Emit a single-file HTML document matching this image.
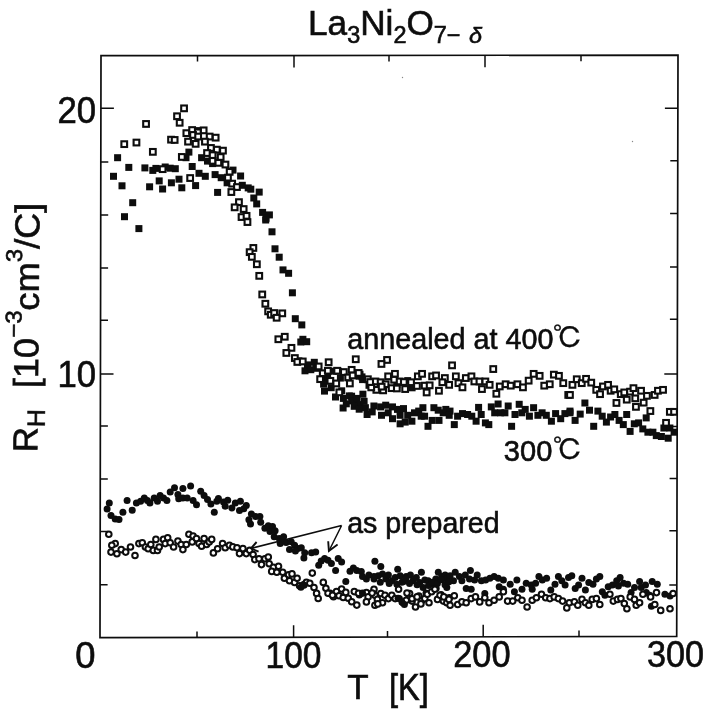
<!DOCTYPE html>
<html lang="en"><head><meta charset="utf-8"><title>La3Ni2O7-δ Hall coefficient</title>
<style>html,body{margin:0;padding:0;background:#fff}svg{display:block}text{font-family:"Liberation Sans","Noto Sans CJK JP",sans-serif;fill:#0d0d0d;stroke:#0d0d0d;stroke-width:0.6}.cj{font-family:"IPAGothic","Noto Sans CJK JP",sans-serif;stroke-width:0.3}</style></head><body>
<svg width="709" height="710" viewBox="0 0 709 710">
<rect width="709" height="710" fill="#fff" stroke="none"/>
<polygon points="101.0,55.7 678.0,55.1 676.7,636.4 100.0,637.6" fill="none" stroke="#0d0d0d" stroke-width="1.7" stroke-linejoin="miter"/>
<path d="M100.1 584.7 h7.5 M676.8 585.0 h-7.5 M100.2 531.5 h7.5 M676.9 530.8 h-7.5 M100.3 479.1 h7.5 M677.1 478.5 h-7.5 M100.4 425.9 h7.5 M677.2 426.5 h-7.5 M100.5 373.9 h13.0 M677.3 374.0 h-13.0 M100.5 320.3 h7.5 M677.4 319.3 h-7.5 M100.6 267.9 h7.5 M677.5 266.9 h-7.5 M100.7 214.9 h7.5 M677.6 213.6 h-7.5 M100.8 162.1 h7.5 M677.8 160.7 h-7.5 M100.9 108.3 h13.0 M677.9 108.3 h-13.0 M197.0 637.4 v-6.0 M197.5 55.6 v6.0 M293.6 637.2 v-12.0 M294.0 55.5 v12.0 M387.5 637.0 v-6.0 M389.0 55.4 v6.0 M483.2 636.8 v-12.0 M485.0 55.3 v12.0 M579.0 636.6 v-6.0 M581.0 55.2 v6.0" stroke="#0d0d0d" stroke-width="1.5" fill="none"/>
<g fill="#0d0d0d" stroke="none">
<rect x="114.1" y="154.2" width="7.0" height="7.0"/>
<rect x="125.3" y="163.9" width="7.0" height="7.0"/>
<rect x="110.0" y="172.8" width="7.0" height="7.0"/>
<rect x="118.5" y="182.3" width="7.0" height="7.0"/>
<rect x="129.2" y="199.2" width="7.0" height="7.0"/>
<rect x="141.4" y="164.4" width="7.0" height="7.0"/>
<rect x="149.3" y="166.9" width="7.0" height="7.0"/>
<rect x="152.4" y="164.9" width="7.0" height="7.0"/>
<rect x="161.7" y="163.5" width="7.0" height="7.0"/>
<rect x="166.7" y="164.7" width="7.0" height="7.0"/>
<rect x="171.8" y="165.2" width="7.0" height="7.0"/>
<rect x="155.7" y="177.4" width="7.0" height="7.0"/>
<rect x="146.1" y="183.3" width="7.0" height="7.0"/>
<rect x="159.1" y="185.5" width="7.0" height="7.0"/>
<rect x="167.9" y="179.3" width="7.0" height="7.0"/>
<rect x="175.5" y="175.7" width="7.0" height="7.0"/>
<rect x="178.3" y="184.3" width="7.0" height="7.0"/>
<rect x="188.7" y="163.0" width="7.0" height="7.0"/>
<rect x="195.5" y="169.8" width="7.0" height="7.0"/>
<rect x="201.8" y="172.8" width="7.0" height="7.0"/>
<rect x="192.1" y="182.1" width="7.0" height="7.0"/>
<rect x="211.6" y="171.1" width="7.0" height="7.0"/>
<rect x="214.1" y="188.9" width="7.0" height="7.0"/>
<rect x="185.4" y="148.6" width="7.0" height="7.0"/>
<rect x="182.5" y="154.2" width="7.0" height="7.0"/>
<rect x="198.1" y="154.2" width="7.0" height="7.0"/>
<rect x="204.0" y="157.6" width="7.0" height="7.0"/>
<rect x="209.1" y="160.1" width="7.0" height="7.0"/>
<rect x="194.7" y="127.1" width="7.0" height="7.0"/>
<rect x="217.7" y="174.2" width="7.0" height="7.0"/>
<rect x="229.5" y="166.6" width="7.0" height="7.0"/>
<rect x="237.1" y="172.5" width="7.0" height="7.0"/>
<rect x="223.6" y="179.3" width="7.0" height="7.0"/>
<rect x="238.8" y="181.8" width="7.0" height="7.0"/>
<rect x="244.7" y="184.4" width="7.0" height="7.0"/>
<rect x="247.3" y="185.7" width="7.0" height="7.0"/>
<rect x="255.7" y="188.6" width="7.0" height="7.0"/>
<rect x="250.3" y="194.5" width="7.0" height="7.0"/>
<rect x="253.2" y="200.4" width="7.0" height="7.0"/>
<rect x="259.1" y="208.9" width="7.0" height="7.0"/>
<rect x="265.9" y="211.4" width="7.0" height="7.0"/>
<rect x="262.5" y="214.8" width="7.0" height="7.0"/>
<rect x="262.2" y="216.5" width="7.0" height="7.0"/>
<rect x="268.5" y="228.3" width="7.0" height="7.0"/>
<rect x="271.5" y="245.3" width="7.0" height="7.0"/>
<rect x="275.7" y="253.7" width="7.0" height="7.0"/>
<rect x="279.5" y="266.4" width="7.0" height="7.0"/>
<rect x="285.1" y="269.8" width="7.0" height="7.0"/>
<rect x="288.9" y="289.3" width="7.0" height="7.0"/>
<rect x="291.8" y="315.2" width="7.0" height="7.0"/>
<rect x="298.3" y="321.4" width="7.0" height="7.0"/>
<rect x="299.4" y="335.8" width="7.0" height="7.0"/>
<rect x="297.3" y="338.5" width="7.0" height="7.0"/>
<rect x="303.2" y="338.2" width="7.0" height="7.0"/>
<rect x="304.0" y="361.4" width="7.0" height="7.0"/>
<rect x="301.5" y="367.3" width="7.0" height="7.0"/>
<rect x="310.8" y="358.8" width="7.0" height="7.0"/>
<rect x="321.0" y="374.9" width="7.0" height="7.0"/>
<rect x="321.0" y="387.6" width="7.0" height="7.0"/>
<rect x="327.7" y="384.2" width="7.0" height="7.0"/>
<rect x="332.0" y="393.5" width="7.0" height="7.0"/>
<rect x="339.6" y="404.5" width="7.0" height="7.0"/>
<rect x="348.1" y="392.7" width="7.0" height="7.0"/>
<rect x="351.4" y="399.4" width="7.0" height="7.0"/>
<rect x="356.5" y="401.1" width="7.0" height="7.0"/>
<rect x="356.5" y="370.7" width="7.0" height="7.0"/>
<rect x="338.2" y="387.3" width="7.0" height="7.0"/>
<rect x="339.9" y="394.9" width="7.0" height="7.0"/>
<rect x="345.8" y="392.4" width="7.0" height="7.0"/>
<rect x="348.3" y="397.4" width="7.0" height="7.0"/>
<rect x="353.4" y="394.9" width="7.0" height="7.0"/>
<rect x="359.4" y="390.7" width="7.0" height="7.0"/>
<rect x="361.9" y="404.2" width="7.0" height="7.0"/>
<rect x="363.6" y="411.0" width="7.0" height="7.0"/>
<rect x="370.4" y="402.5" width="7.0" height="7.0"/>
<rect x="368.7" y="408.4" width="7.0" height="7.0"/>
<rect x="377.1" y="403.4" width="7.0" height="7.0"/>
<rect x="378.0" y="411.8" width="7.0" height="7.0"/>
<rect x="382.2" y="401.7" width="7.0" height="7.0"/>
<rect x="384.7" y="409.3" width="7.0" height="7.0"/>
<rect x="389.0" y="403.4" width="7.0" height="7.0"/>
<rect x="389.0" y="415.2" width="7.0" height="7.0"/>
<rect x="394.0" y="405.9" width="7.0" height="7.0"/>
<rect x="396.6" y="411.8" width="7.0" height="7.0"/>
<rect x="400.0" y="405.1" width="7.0" height="7.0"/>
<rect x="396.6" y="420.3" width="7.0" height="7.0"/>
<rect x="401.7" y="418.6" width="7.0" height="7.0"/>
<rect x="404.2" y="411.8" width="7.0" height="7.0"/>
<rect x="408.4" y="417.7" width="7.0" height="7.0"/>
<rect x="411.0" y="409.3" width="7.0" height="7.0"/>
<rect x="415.2" y="407.6" width="7.0" height="7.0"/>
<rect x="419.4" y="404.2" width="7.0" height="7.0"/>
<rect x="417.7" y="412.7" width="7.0" height="7.0"/>
<rect x="421.1" y="412.7" width="7.0" height="7.0"/>
<rect x="424.5" y="422.8" width="7.0" height="7.0"/>
<rect x="430.4" y="404.2" width="7.0" height="7.0"/>
<rect x="428.7" y="416.9" width="7.0" height="7.0"/>
<rect x="434.7" y="406.7" width="7.0" height="7.0"/>
<rect x="435.5" y="416.9" width="7.0" height="7.0"/>
<rect x="439.7" y="409.3" width="7.0" height="7.0"/>
<rect x="442.3" y="405.9" width="7.0" height="7.0"/>
<rect x="446.5" y="407.6" width="7.0" height="7.0"/>
<rect x="445.7" y="411.8" width="7.0" height="7.0"/>
<rect x="450.8" y="421.1" width="7.0" height="7.0"/>
<rect x="454.1" y="412.7" width="7.0" height="7.0"/>
<rect x="358.5" y="373.4" width="7.0" height="7.0"/>
<rect x="404.2" y="377.1" width="7.0" height="7.0"/>
<rect x="459.0" y="410.1" width="7.0" height="7.0"/>
<rect x="464.1" y="411.0" width="7.0" height="7.0"/>
<rect x="468.3" y="412.7" width="7.0" height="7.0"/>
<rect x="472.6" y="417.7" width="7.0" height="7.0"/>
<rect x="475.1" y="403.9" width="7.0" height="7.0"/>
<rect x="477.7" y="411.0" width="7.0" height="7.0"/>
<rect x="481.9" y="419.4" width="7.0" height="7.0"/>
<rect x="485.3" y="421.1" width="7.0" height="7.0"/>
<rect x="487.8" y="403.4" width="7.0" height="7.0"/>
<rect x="491.2" y="409.3" width="7.0" height="7.0"/>
<rect x="494.6" y="400.5" width="7.0" height="7.0"/>
<rect x="497.1" y="409.3" width="7.0" height="7.0"/>
<rect x="501.4" y="409.3" width="7.0" height="7.0"/>
<rect x="504.7" y="402.5" width="7.0" height="7.0"/>
<rect x="508.1" y="422.8" width="7.0" height="7.0"/>
<rect x="511.5" y="411.0" width="7.0" height="7.0"/>
<rect x="515.7" y="400.8" width="7.0" height="7.0"/>
<rect x="518.3" y="409.3" width="7.0" height="7.0"/>
<rect x="521.7" y="405.9" width="7.0" height="7.0"/>
<rect x="525.9" y="412.7" width="7.0" height="7.0"/>
<rect x="530.1" y="404.2" width="7.0" height="7.0"/>
<rect x="534.4" y="411.8" width="7.0" height="7.0"/>
<rect x="538.6" y="409.3" width="7.0" height="7.0"/>
<rect x="542.8" y="411.8" width="7.0" height="7.0"/>
<rect x="547.9" y="417.7" width="7.0" height="7.0"/>
<rect x="552.1" y="410.1" width="7.0" height="7.0"/>
<rect x="557.2" y="415.2" width="7.0" height="7.0"/>
<rect x="561.4" y="410.1" width="7.0" height="7.0"/>
<rect x="566.5" y="407.6" width="7.0" height="7.0"/>
<rect x="566.5" y="409.3" width="7.0" height="7.0"/>
<rect x="571.6" y="416.9" width="7.0" height="7.0"/>
<rect x="576.7" y="410.6" width="7.0" height="7.0"/>
<rect x="581.4" y="399.5" width="7.0" height="7.0"/>
<rect x="586.0" y="406.7" width="7.0" height="7.0"/>
<rect x="590.2" y="422.8" width="7.0" height="7.0"/>
<rect x="594.4" y="407.6" width="7.0" height="7.0"/>
<rect x="598.7" y="412.7" width="7.0" height="7.0"/>
<rect x="602.9" y="418.6" width="7.0" height="7.0"/>
<rect x="607.1" y="413.5" width="7.0" height="7.0"/>
<rect x="611.4" y="411.0" width="7.0" height="7.0"/>
<rect x="615.6" y="416.9" width="7.0" height="7.0"/>
<rect x="619.8" y="421.1" width="7.0" height="7.0"/>
<rect x="623.2" y="411.0" width="7.0" height="7.0"/>
<rect x="626.6" y="427.9" width="7.0" height="7.0"/>
<rect x="630.8" y="420.3" width="7.0" height="7.0"/>
<rect x="635.1" y="419.4" width="7.0" height="7.0"/>
<rect x="639.3" y="425.4" width="7.0" height="7.0"/>
<rect x="642.7" y="414.4" width="7.0" height="7.0"/>
<rect x="644.4" y="428.7" width="7.0" height="7.0"/>
<rect x="649.4" y="428.7" width="7.0" height="7.0"/>
<rect x="652.8" y="432.1" width="7.0" height="7.0"/>
<rect x="657.9" y="433.0" width="7.0" height="7.0"/>
<rect x="660.4" y="424.5" width="7.0" height="7.0"/>
<rect x="664.7" y="434.7" width="7.0" height="7.0"/>
<rect x="666.4" y="424.5" width="7.0" height="7.0"/>
<rect x="670.6" y="428.7" width="7.0" height="7.0"/>
<rect x="121.0" y="213.2" width="7.0" height="7.0"/>
<rect x="135.4" y="225.1" width="7.0" height="7.0"/>
<rect x="312.7" y="364.8" width="7.0" height="7.0"/>
<rect x="295.4" y="357.4" width="7.0" height="7.0"/>
<rect x="307.3" y="366.2" width="7.0" height="7.0"/>
<rect x="320.1" y="380.6" width="7.0" height="7.0"/>
<rect x="329.5" y="367.7" width="7.0" height="7.0"/>
<rect x="334.9" y="367.7" width="7.0" height="7.0"/>
<rect x="336.9" y="374.6" width="7.0" height="7.0"/>
<rect x="324.1" y="373.2" width="7.0" height="7.0"/>
<rect x="355.7" y="372.7" width="7.0" height="7.0"/>
<rect x="359.1" y="376.1" width="7.0" height="7.0"/>
<rect x="342.8" y="400.3" width="7.0" height="7.0"/>
<rect x="350.7" y="402.8" width="7.0" height="7.0"/>
<rect x="355.7" y="405.7" width="7.0" height="7.0"/>
<rect x="360.6" y="397.8" width="7.0" height="7.0"/>
<rect x="365.5" y="381.8" width="7.0" height="7.0"/>
<rect x="393.4" y="381.2" width="7.0" height="7.0"/>
<rect x="408.6" y="384.3" width="7.0" height="7.0"/>
<rect x="376.9" y="383.1" width="7.0" height="7.0"/>
<circle cx="109.3" cy="503.0" r="3.50"/>
<circle cx="107.1" cy="508.9" r="3.50"/>
<circle cx="111.0" cy="515.4" r="3.50"/>
<circle cx="115.2" cy="519.1" r="3.50"/>
<circle cx="119.0" cy="519.4" r="3.50"/>
<circle cx="122.9" cy="512.3" r="3.50"/>
<circle cx="127.1" cy="500.5" r="3.50"/>
<circle cx="132.2" cy="510.3" r="3.50"/>
<circle cx="136.4" cy="503.0" r="3.50"/>
<circle cx="140.6" cy="501.3" r="3.50"/>
<circle cx="144.3" cy="497.9" r="3.50"/>
<circle cx="147.4" cy="500.5" r="3.50"/>
<circle cx="149.9" cy="503.0" r="3.50"/>
<circle cx="154.2" cy="497.9" r="3.50"/>
<circle cx="157.5" cy="501.3" r="3.50"/>
<circle cx="160.1" cy="495.4" r="3.50"/>
<circle cx="163.5" cy="497.9" r="3.50"/>
<circle cx="166.9" cy="500.5" r="3.50"/>
<circle cx="170.2" cy="492.0" r="3.50"/>
<circle cx="174.5" cy="487.8" r="3.50"/>
<circle cx="177.9" cy="494.5" r="3.50"/>
<circle cx="178.7" cy="498.8" r="3.50"/>
<circle cx="182.9" cy="488.6" r="3.50"/>
<circle cx="182.9" cy="497.9" r="3.50"/>
<circle cx="187.2" cy="497.9" r="3.50"/>
<circle cx="190.6" cy="486.1" r="3.50"/>
<circle cx="193.1" cy="500.5" r="3.50"/>
<circle cx="196.5" cy="504.7" r="3.50"/>
<circle cx="200.7" cy="491.2" r="3.50"/>
<circle cx="204.1" cy="495.4" r="3.50"/>
<circle cx="207.5" cy="499.6" r="3.50"/>
<circle cx="210.9" cy="503.9" r="3.50"/>
<circle cx="214.3" cy="512.3" r="3.50"/>
<circle cx="216.8" cy="501.3" r="3.50"/>
<circle cx="218.4" cy="498.6" r="3.50"/>
<circle cx="223.5" cy="502.0" r="3.50"/>
<circle cx="227.7" cy="500.3" r="3.50"/>
<circle cx="225.2" cy="506.2" r="3.50"/>
<circle cx="231.9" cy="507.9" r="3.50"/>
<circle cx="235.3" cy="502.9" r="3.50"/>
<circle cx="240.4" cy="501.2" r="3.50"/>
<circle cx="239.5" cy="510.5" r="3.50"/>
<circle cx="246.3" cy="505.4" r="3.50"/>
<circle cx="243.8" cy="508.8" r="3.50"/>
<circle cx="251.4" cy="513.9" r="3.50"/>
<circle cx="248.9" cy="519.8" r="3.50"/>
<circle cx="255.6" cy="516.4" r="3.50"/>
<circle cx="259.9" cy="516.4" r="3.50"/>
<circle cx="250.5" cy="524.0" r="3.50"/>
<circle cx="260.7" cy="522.3" r="3.50"/>
<circle cx="264.9" cy="528.2" r="3.50"/>
<circle cx="268.3" cy="525.7" r="3.50"/>
<circle cx="272.5" cy="526.5" r="3.50"/>
<circle cx="270.0" cy="531.6" r="3.50"/>
<circle cx="275.1" cy="530.8" r="3.50"/>
<circle cx="274.2" cy="536.7" r="3.50"/>
<circle cx="279.3" cy="538.4" r="3.50"/>
<circle cx="283.6" cy="536.7" r="3.50"/>
<circle cx="280.2" cy="543.5" r="3.50"/>
<circle cx="286.1" cy="542.6" r="3.50"/>
<circle cx="291.2" cy="541.8" r="3.50"/>
<circle cx="289.5" cy="549.4" r="3.50"/>
<circle cx="294.6" cy="545.2" r="3.50"/>
<circle cx="297.9" cy="548.6" r="3.50"/>
<circle cx="301.3" cy="547.7" r="3.50"/>
<circle cx="295.4" cy="551.1" r="3.50"/>
<circle cx="304.7" cy="552.8" r="3.50"/>
<circle cx="303.9" cy="557.9" r="3.50"/>
<circle cx="311.5" cy="552.8" r="3.50"/>
<circle cx="315.7" cy="551.9" r="3.50"/>
<circle cx="321.2" cy="561.1" r="3.50"/>
<circle cx="324.6" cy="558.6" r="3.50"/>
<circle cx="328.0" cy="560.2" r="3.50"/>
<circle cx="318.7" cy="565.3" r="3.50"/>
<circle cx="331.4" cy="563.6" r="3.50"/>
<circle cx="338.2" cy="558.6" r="3.50"/>
<circle cx="341.6" cy="561.9" r="3.50"/>
<circle cx="335.6" cy="570.4" r="3.50"/>
<circle cx="345.8" cy="581.4" r="3.50"/>
<circle cx="350.0" cy="571.2" r="3.50"/>
<circle cx="353.4" cy="567.9" r="3.50"/>
<circle cx="356.8" cy="570.4" r="3.50"/>
<circle cx="359.3" cy="594.9" r="3.50"/>
<circle cx="361.3" cy="571.5" r="3.50"/>
<circle cx="366.4" cy="579.1" r="3.50"/>
<circle cx="368.9" cy="574.9" r="3.50"/>
<circle cx="374.9" cy="561.3" r="3.50"/>
<circle cx="374.0" cy="579.1" r="3.50"/>
<circle cx="378.2" cy="575.7" r="3.50"/>
<circle cx="380.8" cy="566.4" r="3.50"/>
<circle cx="382.5" cy="574.0" r="3.50"/>
<circle cx="385.9" cy="579.1" r="3.50"/>
<circle cx="388.4" cy="574.9" r="3.50"/>
<circle cx="391.8" cy="580.8" r="3.50"/>
<circle cx="395.2" cy="577.4" r="3.50"/>
<circle cx="397.7" cy="569.3" r="3.50"/>
<circle cx="400.2" cy="575.7" r="3.50"/>
<circle cx="403.6" cy="581.6" r="3.50"/>
<circle cx="406.2" cy="576.5" r="3.50"/>
<circle cx="410.4" cy="574.9" r="3.50"/>
<circle cx="412.9" cy="580.8" r="3.50"/>
<circle cx="416.3" cy="577.4" r="3.50"/>
<circle cx="421.4" cy="572.3" r="3.50"/>
<circle cx="419.7" cy="582.5" r="3.50"/>
<circle cx="424.8" cy="579.9" r="3.50"/>
<circle cx="423.1" cy="587.5" r="3.50"/>
<circle cx="428.2" cy="580.8" r="3.50"/>
<circle cx="431.6" cy="584.2" r="3.50"/>
<circle cx="438.3" cy="572.3" r="3.50"/>
<circle cx="435.8" cy="579.1" r="3.50"/>
<circle cx="441.7" cy="576.5" r="3.50"/>
<circle cx="445.1" cy="574.9" r="3.50"/>
<circle cx="448.5" cy="579.9" r="3.50"/>
<circle cx="446.8" cy="587.5" r="3.50"/>
<circle cx="361.3" cy="593.5" r="3.50"/>
<circle cx="399.4" cy="598.6" r="3.50"/>
<circle cx="402.8" cy="602.8" r="3.50"/>
<circle cx="396.9" cy="584.2" r="3.50"/>
<circle cx="446.7" cy="579.1" r="3.50"/>
<circle cx="450.1" cy="575.7" r="3.50"/>
<circle cx="455.2" cy="572.3" r="3.50"/>
<circle cx="453.5" cy="580.8" r="3.50"/>
<circle cx="459.4" cy="576.5" r="3.50"/>
<circle cx="461.9" cy="580.8" r="3.50"/>
<circle cx="465.3" cy="574.9" r="3.50"/>
<circle cx="470.4" cy="570.6" r="3.50"/>
<circle cx="469.5" cy="579.1" r="3.50"/>
<circle cx="474.6" cy="579.9" r="3.50"/>
<circle cx="477.2" cy="574.9" r="3.50"/>
<circle cx="481.4" cy="580.8" r="3.50"/>
<circle cx="485.6" cy="579.9" r="3.50"/>
<circle cx="489.9" cy="578.2" r="3.50"/>
<circle cx="494.1" cy="576.5" r="3.50"/>
<circle cx="498.3" cy="578.2" r="3.50"/>
<circle cx="503.4" cy="579.9" r="3.50"/>
<circle cx="466.2" cy="588.4" r="3.50"/>
<circle cx="471.2" cy="589.2" r="3.50"/>
<circle cx="484.8" cy="593.5" r="3.50"/>
<circle cx="499.2" cy="586.7" r="3.50"/>
<circle cx="503.4" cy="589.2" r="3.50"/>
<circle cx="510.2" cy="584.2" r="3.50"/>
<circle cx="514.4" cy="591.8" r="3.50"/>
<circle cx="516.9" cy="579.9" r="3.50"/>
<circle cx="522.0" cy="589.2" r="3.50"/>
<circle cx="526.2" cy="583.3" r="3.50"/>
<circle cx="531.3" cy="585.0" r="3.50"/>
<circle cx="532.2" cy="589.2" r="3.50"/>
<circle cx="535.6" cy="583.3" r="3.50"/>
<circle cx="538.9" cy="576.5" r="3.50"/>
<circle cx="542.3" cy="579.9" r="3.50"/>
<circle cx="546.6" cy="578.2" r="3.50"/>
<circle cx="550.8" cy="590.1" r="3.50"/>
<circle cx="555.0" cy="584.2" r="3.50"/>
<circle cx="558.4" cy="576.5" r="3.50"/>
<circle cx="561.8" cy="580.8" r="3.50"/>
<circle cx="565.1" cy="585.0" r="3.50"/>
<circle cx="568.5" cy="577.4" r="3.50"/>
<circle cx="571.8" cy="575.7" r="3.50"/>
<circle cx="575.2" cy="588.4" r="3.50"/>
<circle cx="578.6" cy="585.0" r="3.50"/>
<circle cx="582.0" cy="578.2" r="3.50"/>
<circle cx="585.4" cy="590.1" r="3.50"/>
<circle cx="588.8" cy="582.5" r="3.50"/>
<circle cx="593.0" cy="584.2" r="3.50"/>
<circle cx="596.4" cy="579.1" r="3.50"/>
<circle cx="599.8" cy="576.5" r="3.50"/>
<circle cx="602.3" cy="591.8" r="3.50"/>
<circle cx="604.9" cy="595.2" r="3.50"/>
<circle cx="608.2" cy="586.7" r="3.50"/>
<circle cx="612.5" cy="585.0" r="3.50"/>
<circle cx="616.7" cy="580.8" r="3.50"/>
<circle cx="620.1" cy="577.4" r="3.50"/>
<circle cx="618.4" cy="585.9" r="3.50"/>
<circle cx="623.5" cy="583.3" r="3.50"/>
<circle cx="627.7" cy="584.2" r="3.50"/>
<circle cx="631.1" cy="592.6" r="3.50"/>
<circle cx="634.5" cy="587.5" r="3.50"/>
<circle cx="639.6" cy="581.6" r="3.50"/>
<circle cx="641.2" cy="587.5" r="3.50"/>
<circle cx="645.5" cy="585.0" r="3.50"/>
<circle cx="646.3" cy="592.6" r="3.50"/>
<circle cx="649.7" cy="595.2" r="3.50"/>
<circle cx="652.2" cy="581.6" r="3.50"/>
<circle cx="657.3" cy="584.2" r="3.50"/>
<circle cx="651.4" cy="606.2" r="3.50"/>
<circle cx="664.9" cy="594.3" r="3.50"/>
<circle cx="670.0" cy="596.0" r="3.50"/>
<circle cx="380.3" cy="582.3" r="3.50"/>
<circle cx="389.2" cy="583.6" r="3.50"/>
<circle cx="401.9" cy="582.3" r="3.50"/>
<circle cx="405.7" cy="579.1" r="3.50"/>
<circle cx="409.5" cy="583.6" r="3.50"/>
<circle cx="417.1" cy="584.8" r="3.50"/>
<circle cx="428.5" cy="585.5" r="3.50"/>
<circle cx="432.4" cy="582.3" r="3.50"/>
<circle cx="437.4" cy="583.6" r="3.50"/>
<circle cx="441.2" cy="579.8" r="3.50"/>
<circle cx="445.0" cy="584.8" r="3.50"/>
<circle cx="448.9" cy="581.7" r="3.50"/>
<circle cx="436.2" cy="588.6" r="3.50"/>
<circle cx="426.0" cy="593.1" r="3.50"/>
<circle cx="441.2" cy="594.4" r="3.50"/>
<circle cx="374.0" cy="576.6" r="3.50"/>
<circle cx="362.5" cy="576.6" r="3.50"/>
</g>
<g fill="#fff" stroke="#0d0d0d" stroke-width="2.10">
<rect x="181.2" y="105.5" width="5.7" height="5.7"/>
<rect x="174.2" y="113.4" width="5.7" height="5.7"/>
<rect x="176.8" y="119.9" width="5.7" height="5.7"/>
<rect x="143.2" y="121.1" width="5.7" height="5.7"/>
<rect x="121.4" y="141.3" width="5.7" height="5.7"/>
<rect x="133.6" y="139.7" width="5.7" height="5.7"/>
<rect x="150.0" y="149.0" width="5.7" height="5.7"/>
<rect x="168.2" y="136.8" width="5.7" height="5.7"/>
<rect x="171.8" y="137.1" width="5.7" height="5.7"/>
<rect x="183.5" y="130.3" width="5.7" height="5.7"/>
<rect x="189.3" y="127.2" width="5.7" height="5.7"/>
<rect x="200.8" y="127.5" width="5.7" height="5.7"/>
<rect x="195.0" y="129.5" width="5.7" height="5.7"/>
<rect x="190.2" y="132.1" width="5.7" height="5.7"/>
<rect x="195.3" y="133.7" width="5.7" height="5.7"/>
<rect x="206.8" y="133.7" width="5.7" height="5.7"/>
<rect x="212.8" y="134.8" width="5.7" height="5.7"/>
<rect x="185.2" y="138.8" width="5.7" height="5.7"/>
<rect x="192.8" y="141.0" width="5.7" height="5.7"/>
<rect x="202.1" y="138.8" width="5.7" height="5.7"/>
<rect x="208.1" y="145.1" width="5.7" height="5.7"/>
<rect x="214.0" y="146.8" width="5.7" height="5.7"/>
<rect x="204.2" y="150.2" width="5.7" height="5.7"/>
<rect x="209.8" y="152.3" width="5.7" height="5.7"/>
<rect x="179.0" y="154.1" width="5.7" height="5.7"/>
<rect x="159.8" y="166.3" width="5.7" height="5.7"/>
<rect x="187.3" y="175.2" width="5.7" height="5.7"/>
<rect x="220.1" y="147.8" width="5.7" height="5.7"/>
<rect x="217.8" y="154.2" width="5.7" height="5.7"/>
<rect x="209.8" y="158.0" width="5.7" height="5.7"/>
<rect x="215.5" y="160.0" width="5.7" height="5.7"/>
<rect x="222.6" y="161.7" width="5.7" height="5.7"/>
<rect x="226.8" y="169.0" width="5.7" height="5.7"/>
<rect x="229.3" y="180.8" width="5.7" height="5.7"/>
<rect x="234.1" y="184.2" width="5.7" height="5.7"/>
<rect x="228.5" y="189.2" width="5.7" height="5.7"/>
<rect x="236.1" y="199.3" width="5.7" height="5.7"/>
<rect x="231.8" y="204.5" width="5.7" height="5.7"/>
<rect x="240.8" y="206.2" width="5.7" height="5.7"/>
<rect x="238.7" y="214.2" width="5.7" height="5.7"/>
<rect x="243.7" y="213.0" width="5.7" height="5.7"/>
<rect x="244.6" y="219.2" width="5.7" height="5.7"/>
<rect x="225.1" y="174.8" width="5.7" height="5.7"/>
<rect x="250.5" y="245.1" width="5.7" height="5.7"/>
<rect x="246.8" y="249.3" width="5.7" height="5.7"/>
<rect x="249.0" y="254.0" width="5.7" height="5.7"/>
<rect x="254.0" y="261.4" width="5.7" height="5.7"/>
<rect x="256.4" y="273.0" width="5.7" height="5.7"/>
<rect x="259.4" y="291.6" width="5.7" height="5.7"/>
<rect x="262.5" y="300.9" width="5.7" height="5.7"/>
<rect x="265.3" y="308.5" width="5.7" height="5.7"/>
<rect x="267.9" y="311.9" width="5.7" height="5.7"/>
<rect x="271.3" y="310.2" width="5.7" height="5.7"/>
<rect x="279.4" y="310.5" width="5.7" height="5.7"/>
<rect x="273.8" y="314.9" width="5.7" height="5.7"/>
<rect x="281.9" y="333.9" width="5.7" height="5.7"/>
<rect x="275.5" y="336.4" width="5.7" height="5.7"/>
<rect x="288.6" y="345.0" width="5.7" height="5.7"/>
<rect x="283.5" y="350.1" width="5.7" height="5.7"/>
<rect x="292.0" y="355.2" width="5.7" height="5.7"/>
<rect x="294.5" y="359.1" width="5.7" height="5.7"/>
<rect x="299.9" y="358.6" width="5.7" height="5.7"/>
<rect x="315.8" y="363.6" width="5.7" height="5.7"/>
<rect x="325.8" y="359.4" width="5.7" height="5.7"/>
<rect x="352.9" y="356.4" width="5.7" height="5.7"/>
<rect x="319.9" y="370.4" width="5.7" height="5.7"/>
<rect x="325.0" y="367.9" width="5.7" height="5.7"/>
<rect x="334.3" y="367.9" width="5.7" height="5.7"/>
<rect x="341.0" y="369.2" width="5.7" height="5.7"/>
<rect x="348.8" y="367.0" width="5.7" height="5.7"/>
<rect x="317.3" y="376.3" width="5.7" height="5.7"/>
<rect x="327.5" y="378.0" width="5.7" height="5.7"/>
<rect x="333.4" y="380.6" width="5.7" height="5.7"/>
<rect x="345.3" y="374.6" width="5.7" height="5.7"/>
<rect x="347.0" y="380.6" width="5.7" height="5.7"/>
<rect x="336.5" y="389.5" width="5.7" height="5.7"/>
<rect x="384.2" y="357.1" width="5.7" height="5.7"/>
<rect x="378.6" y="361.1" width="5.7" height="5.7"/>
<rect x="449.2" y="362.5" width="5.7" height="5.7"/>
<rect x="349.8" y="372.6" width="5.7" height="5.7"/>
<rect x="355.8" y="370.1" width="5.7" height="5.7"/>
<rect x="365.0" y="376.4" width="5.7" height="5.7"/>
<rect x="372.6" y="378.6" width="5.7" height="5.7"/>
<rect x="377.8" y="379.4" width="5.7" height="5.7"/>
<rect x="382.8" y="381.4" width="5.7" height="5.7"/>
<rect x="385.3" y="373.5" width="5.7" height="5.7"/>
<rect x="392.1" y="371.0" width="5.7" height="5.7"/>
<rect x="391.3" y="376.9" width="5.7" height="5.7"/>
<rect x="396.8" y="378.6" width="5.7" height="5.7"/>
<rect x="388.8" y="385.3" width="5.7" height="5.7"/>
<rect x="380.3" y="387.5" width="5.7" height="5.7"/>
<rect x="373.5" y="387.0" width="5.7" height="5.7"/>
<rect x="368.4" y="384.5" width="5.7" height="5.7"/>
<rect x="402.3" y="386.2" width="5.7" height="5.7"/>
<rect x="408.2" y="379.4" width="5.7" height="5.7"/>
<rect x="414.1" y="383.1" width="5.7" height="5.7"/>
<rect x="415.0" y="373.5" width="5.7" height="5.7"/>
<rect x="419.2" y="371.0" width="5.7" height="5.7"/>
<rect x="421.8" y="382.8" width="5.7" height="5.7"/>
<rect x="426.8" y="382.5" width="5.7" height="5.7"/>
<rect x="423.8" y="389.6" width="5.7" height="5.7"/>
<rect x="429.3" y="373.5" width="5.7" height="5.7"/>
<rect x="433.2" y="372.6" width="5.7" height="5.7"/>
<rect x="436.1" y="387.9" width="5.7" height="5.7"/>
<rect x="442.0" y="375.2" width="5.7" height="5.7"/>
<rect x="439.5" y="379.4" width="5.7" height="5.7"/>
<rect x="446.3" y="382.0" width="5.7" height="5.7"/>
<rect x="453.0" y="373.5" width="5.7" height="5.7"/>
<rect x="455.6" y="380.3" width="5.7" height="5.7"/>
<rect x="490.4" y="366.2" width="5.7" height="5.7"/>
<rect x="459.6" y="384.5" width="5.7" height="5.7"/>
<rect x="463.0" y="375.2" width="5.7" height="5.7"/>
<rect x="468.6" y="373.5" width="5.7" height="5.7"/>
<rect x="471.5" y="378.6" width="5.7" height="5.7"/>
<rect x="476.6" y="378.6" width="5.7" height="5.7"/>
<rect x="479.1" y="386.2" width="5.7" height="5.7"/>
<rect x="482.5" y="378.6" width="5.7" height="5.7"/>
<rect x="486.8" y="382.0" width="5.7" height="5.7"/>
<rect x="493.5" y="390.9" width="5.7" height="5.7"/>
<rect x="496.9" y="383.6" width="5.7" height="5.7"/>
<rect x="502.8" y="381.4" width="5.7" height="5.7"/>
<rect x="507.9" y="382.8" width="5.7" height="5.7"/>
<rect x="514.6" y="381.4" width="5.7" height="5.7"/>
<rect x="520.1" y="384.5" width="5.7" height="5.7"/>
<rect x="525.8" y="377.8" width="5.7" height="5.7"/>
<rect x="530.8" y="371.0" width="5.7" height="5.7"/>
<rect x="536.8" y="373.0" width="5.7" height="5.7"/>
<rect x="541.4" y="382.8" width="5.7" height="5.7"/>
<rect x="546.9" y="381.4" width="5.7" height="5.7"/>
<rect x="551.0" y="371.8" width="5.7" height="5.7"/>
<rect x="556.1" y="373.0" width="5.7" height="5.7"/>
<rect x="560.4" y="380.3" width="5.7" height="5.7"/>
<rect x="565.4" y="392.1" width="5.7" height="5.7"/>
<rect x="569.6" y="382.0" width="5.7" height="5.7"/>
<rect x="573.9" y="376.4" width="5.7" height="5.7"/>
<rect x="578.9" y="380.3" width="5.7" height="5.7"/>
<rect x="583.2" y="376.0" width="5.7" height="5.7"/>
<rect x="588.4" y="379.8" width="5.7" height="5.7"/>
<rect x="567.1" y="392.1" width="5.7" height="5.7"/>
<rect x="593.4" y="387.0" width="5.7" height="5.7"/>
<rect x="597.2" y="391.3" width="5.7" height="5.7"/>
<rect x="600.1" y="383.6" width="5.7" height="5.7"/>
<rect x="605.2" y="382.0" width="5.7" height="5.7"/>
<rect x="607.8" y="387.9" width="5.7" height="5.7"/>
<rect x="611.4" y="386.5" width="5.7" height="5.7"/>
<rect x="613.6" y="400.1" width="5.7" height="5.7"/>
<rect x="617.9" y="391.3" width="5.7" height="5.7"/>
<rect x="621.4" y="389.6" width="5.7" height="5.7"/>
<rect x="623.9" y="396.8" width="5.7" height="5.7"/>
<rect x="627.2" y="388.8" width="5.7" height="5.7"/>
<rect x="630.6" y="385.3" width="5.7" height="5.7"/>
<rect x="632.4" y="395.5" width="5.7" height="5.7"/>
<rect x="633.1" y="404.0" width="5.7" height="5.7"/>
<rect x="638.2" y="387.9" width="5.7" height="5.7"/>
<rect x="640.8" y="399.8" width="5.7" height="5.7"/>
<rect x="644.1" y="393.0" width="5.7" height="5.7"/>
<rect x="647.5" y="408.2" width="5.7" height="5.7"/>
<rect x="651.8" y="392.1" width="5.7" height="5.7"/>
<rect x="655.1" y="387.9" width="5.7" height="5.7"/>
<rect x="660.2" y="387.0" width="5.7" height="5.7"/>
<rect x="667.0" y="409.0" width="5.7" height="5.7"/>
<rect x="671.2" y="409.0" width="5.7" height="5.7"/>
<rect x="663.2" y="420.0" width="5.7" height="5.7"/>
<rect x="401.0" y="379.2" width="5.7" height="5.7"/>
<rect x="378.8" y="383.8" width="5.7" height="5.7"/>
<rect x="394.0" y="385.6" width="5.7" height="5.7"/>
<rect x="367.3" y="379.2" width="5.7" height="5.7"/>
<circle cx="108.8" cy="534.3" r="2.80" stroke-width="2.00"/>
<circle cx="115.2" cy="543.6" r="2.80" stroke-width="2.00"/>
<circle cx="111.8" cy="545.3" r="2.80" stroke-width="2.00"/>
<circle cx="111.0" cy="552.1" r="2.80" stroke-width="2.00"/>
<circle cx="116.9" cy="553.8" r="2.80" stroke-width="2.00"/>
<circle cx="121.2" cy="549.6" r="2.80" stroke-width="2.00"/>
<circle cx="125.7" cy="552.1" r="2.80" stroke-width="2.00"/>
<circle cx="130.5" cy="547.0" r="2.80" stroke-width="2.00"/>
<circle cx="135.0" cy="555.5" r="2.80" stroke-width="2.00"/>
<circle cx="138.9" cy="543.6" r="2.80" stroke-width="2.00"/>
<circle cx="142.3" cy="542.8" r="2.80" stroke-width="2.00"/>
<circle cx="145.4" cy="547.0" r="2.80" stroke-width="2.00"/>
<circle cx="148.2" cy="548.7" r="2.80" stroke-width="2.00"/>
<circle cx="150.8" cy="544.5" r="2.80" stroke-width="2.00"/>
<circle cx="153.3" cy="550.4" r="2.80" stroke-width="2.00"/>
<circle cx="155.9" cy="539.4" r="2.80" stroke-width="2.00"/>
<circle cx="157.5" cy="550.4" r="2.80" stroke-width="2.00"/>
<circle cx="159.2" cy="547.0" r="2.80" stroke-width="2.00"/>
<circle cx="163.5" cy="539.4" r="2.80" stroke-width="2.00"/>
<circle cx="165.2" cy="543.6" r="2.80" stroke-width="2.00"/>
<circle cx="167.7" cy="537.7" r="2.80" stroke-width="2.00"/>
<circle cx="170.2" cy="542.8" r="2.80" stroke-width="2.00"/>
<circle cx="173.6" cy="547.0" r="2.80" stroke-width="2.00"/>
<circle cx="177.9" cy="541.1" r="2.80" stroke-width="2.00"/>
<circle cx="181.2" cy="544.5" r="2.80" stroke-width="2.00"/>
<circle cx="182.9" cy="549.6" r="2.80" stroke-width="2.00"/>
<circle cx="186.3" cy="544.5" r="2.80" stroke-width="2.00"/>
<circle cx="188.9" cy="534.3" r="2.80" stroke-width="2.00"/>
<circle cx="192.2" cy="541.9" r="2.80" stroke-width="2.00"/>
<circle cx="193.1" cy="536.0" r="2.80" stroke-width="2.00"/>
<circle cx="196.5" cy="538.6" r="2.80" stroke-width="2.00"/>
<circle cx="199.0" cy="543.6" r="2.80" stroke-width="2.00"/>
<circle cx="201.6" cy="546.2" r="2.80" stroke-width="2.00"/>
<circle cx="204.1" cy="538.6" r="2.80" stroke-width="2.00"/>
<circle cx="206.6" cy="544.5" r="2.80" stroke-width="2.00"/>
<circle cx="209.2" cy="541.9" r="2.80" stroke-width="2.00"/>
<circle cx="211.7" cy="539.4" r="2.80" stroke-width="2.00"/>
<circle cx="213.4" cy="552.9" r="2.80" stroke-width="2.00"/>
<circle cx="217.6" cy="548.7" r="2.80" stroke-width="2.00"/>
<circle cx="222.6" cy="543.5" r="2.80" stroke-width="2.00"/>
<circle cx="225.2" cy="547.7" r="2.80" stroke-width="2.00"/>
<circle cx="229.4" cy="545.2" r="2.80" stroke-width="2.00"/>
<circle cx="232.8" cy="546.9" r="2.80" stroke-width="2.00"/>
<circle cx="237.0" cy="547.7" r="2.80" stroke-width="2.00"/>
<circle cx="239.5" cy="553.6" r="2.80" stroke-width="2.00"/>
<circle cx="242.9" cy="548.6" r="2.80" stroke-width="2.00"/>
<circle cx="246.3" cy="553.6" r="2.80" stroke-width="2.00"/>
<circle cx="249.7" cy="550.2" r="2.80" stroke-width="2.00"/>
<circle cx="253.1" cy="554.5" r="2.80" stroke-width="2.00"/>
<circle cx="254.8" cy="559.6" r="2.80" stroke-width="2.00"/>
<circle cx="259.0" cy="558.7" r="2.80" stroke-width="2.00"/>
<circle cx="261.5" cy="564.6" r="2.80" stroke-width="2.00"/>
<circle cx="264.9" cy="558.7" r="2.80" stroke-width="2.00"/>
<circle cx="268.3" cy="557.0" r="2.80" stroke-width="2.00"/>
<circle cx="269.2" cy="563.8" r="2.80" stroke-width="2.00"/>
<circle cx="273.4" cy="567.2" r="2.80" stroke-width="2.00"/>
<circle cx="271.7" cy="571.4" r="2.80" stroke-width="2.00"/>
<circle cx="278.5" cy="566.3" r="2.80" stroke-width="2.00"/>
<circle cx="276.8" cy="572.2" r="2.80" stroke-width="2.00"/>
<circle cx="282.7" cy="572.2" r="2.80" stroke-width="2.00"/>
<circle cx="284.4" cy="578.2" r="2.80" stroke-width="2.00"/>
<circle cx="288.6" cy="574.8" r="2.80" stroke-width="2.00"/>
<circle cx="289.5" cy="580.7" r="2.80" stroke-width="2.00"/>
<circle cx="292.0" cy="573.9" r="2.80" stroke-width="2.00"/>
<circle cx="294.6" cy="582.4" r="2.80" stroke-width="2.00"/>
<circle cx="297.1" cy="578.2" r="2.80" stroke-width="2.00"/>
<circle cx="299.6" cy="585.8" r="2.80" stroke-width="2.00"/>
<circle cx="303.9" cy="584.9" r="2.80" stroke-width="2.00"/>
<circle cx="306.4" cy="582.4" r="2.80" stroke-width="2.00"/>
<circle cx="309.8" cy="583.2" r="2.80" stroke-width="2.00"/>
<circle cx="312.3" cy="573.1" r="2.80" stroke-width="2.00"/>
<circle cx="314.0" cy="587.5" r="2.80" stroke-width="2.00"/>
<circle cx="316.6" cy="593.4" r="2.80" stroke-width="2.00"/>
<circle cx="318.2" cy="598.5" r="2.80" stroke-width="2.00"/>
<circle cx="323.3" cy="582.4" r="2.80" stroke-width="2.00"/>
<circle cx="325.9" cy="588.3" r="2.80" stroke-width="2.00"/>
<circle cx="330.1" cy="593.4" r="2.80" stroke-width="2.00"/>
<circle cx="333.5" cy="596.8" r="2.80" stroke-width="2.00"/>
<circle cx="328.0" cy="593.2" r="2.80" stroke-width="2.00"/>
<circle cx="336.5" cy="591.6" r="2.80" stroke-width="2.00"/>
<circle cx="339.0" cy="595.8" r="2.80" stroke-width="2.00"/>
<circle cx="341.6" cy="589.0" r="2.80" stroke-width="2.00"/>
<circle cx="343.2" cy="597.5" r="2.80" stroke-width="2.00"/>
<circle cx="345.8" cy="592.4" r="2.80" stroke-width="2.00"/>
<circle cx="348.3" cy="598.3" r="2.80" stroke-width="2.00"/>
<circle cx="351.7" cy="601.7" r="2.80" stroke-width="2.00"/>
<circle cx="354.3" cy="591.6" r="2.80" stroke-width="2.00"/>
<circle cx="356.8" cy="605.1" r="2.80" stroke-width="2.00"/>
<circle cx="358.5" cy="593.2" r="2.80" stroke-width="2.00"/>
<circle cx="332.5" cy="595.2" r="2.80" stroke-width="2.00"/>
<circle cx="366.4" cy="592.6" r="2.80" stroke-width="2.00"/>
<circle cx="368.1" cy="596.9" r="2.80" stroke-width="2.00"/>
<circle cx="366.4" cy="601.9" r="2.80" stroke-width="2.00"/>
<circle cx="374.0" cy="589.2" r="2.80" stroke-width="2.00"/>
<circle cx="374.9" cy="595.2" r="2.80" stroke-width="2.00"/>
<circle cx="377.4" cy="599.4" r="2.80" stroke-width="2.00"/>
<circle cx="374.9" cy="605.3" r="2.80" stroke-width="2.00"/>
<circle cx="380.8" cy="593.5" r="2.80" stroke-width="2.00"/>
<circle cx="382.5" cy="602.8" r="2.80" stroke-width="2.00"/>
<circle cx="385.0" cy="595.2" r="2.80" stroke-width="2.00"/>
<circle cx="388.4" cy="598.6" r="2.80" stroke-width="2.00"/>
<circle cx="391.8" cy="595.2" r="2.80" stroke-width="2.00"/>
<circle cx="395.2" cy="598.6" r="2.80" stroke-width="2.00"/>
<circle cx="398.6" cy="589.2" r="2.80" stroke-width="2.00"/>
<circle cx="409.6" cy="593.5" r="2.80" stroke-width="2.00"/>
<circle cx="408.7" cy="598.6" r="2.80" stroke-width="2.00"/>
<circle cx="412.1" cy="601.1" r="2.80" stroke-width="2.00"/>
<circle cx="415.5" cy="607.0" r="2.80" stroke-width="2.00"/>
<circle cx="418.9" cy="596.0" r="2.80" stroke-width="2.00"/>
<circle cx="421.4" cy="601.1" r="2.80" stroke-width="2.00"/>
<circle cx="424.8" cy="598.6" r="2.80" stroke-width="2.00"/>
<circle cx="427.3" cy="594.3" r="2.80" stroke-width="2.00"/>
<circle cx="429.0" cy="602.8" r="2.80" stroke-width="2.00"/>
<circle cx="431.6" cy="591.8" r="2.80" stroke-width="2.00"/>
<circle cx="434.9" cy="589.2" r="2.80" stroke-width="2.00"/>
<circle cx="437.5" cy="599.4" r="2.80" stroke-width="2.00"/>
<circle cx="440.0" cy="595.2" r="2.80" stroke-width="2.00"/>
<circle cx="443.4" cy="601.1" r="2.80" stroke-width="2.00"/>
<circle cx="446.8" cy="602.8" r="2.80" stroke-width="2.00"/>
<circle cx="449.3" cy="597.7" r="2.80" stroke-width="2.00"/>
<circle cx="406.2" cy="600.2" r="2.80" stroke-width="2.00"/>
<circle cx="454.3" cy="595.7" r="2.80" stroke-width="2.00"/>
<circle cx="450.1" cy="605.3" r="2.80" stroke-width="2.00"/>
<circle cx="457.7" cy="604.5" r="2.80" stroke-width="2.00"/>
<circle cx="461.9" cy="601.9" r="2.80" stroke-width="2.00"/>
<circle cx="466.2" cy="602.8" r="2.80" stroke-width="2.00"/>
<circle cx="471.2" cy="598.6" r="2.80" stroke-width="2.00"/>
<circle cx="475.5" cy="596.9" r="2.80" stroke-width="2.00"/>
<circle cx="479.7" cy="601.9" r="2.80" stroke-width="2.00"/>
<circle cx="484.8" cy="597.7" r="2.80" stroke-width="2.00"/>
<circle cx="489.0" cy="602.8" r="2.80" stroke-width="2.00"/>
<circle cx="494.1" cy="600.2" r="2.80" stroke-width="2.00"/>
<circle cx="499.2" cy="596.9" r="2.80" stroke-width="2.00"/>
<circle cx="503.4" cy="591.8" r="2.80" stroke-width="2.00"/>
<circle cx="507.6" cy="601.1" r="2.80" stroke-width="2.00"/>
<circle cx="512.7" cy="601.1" r="2.80" stroke-width="2.00"/>
<circle cx="517.8" cy="597.7" r="2.80" stroke-width="2.00"/>
<circle cx="522.0" cy="600.2" r="2.80" stroke-width="2.00"/>
<circle cx="527.1" cy="607.0" r="2.80" stroke-width="2.00"/>
<circle cx="532.2" cy="600.2" r="2.80" stroke-width="2.00"/>
<circle cx="536.4" cy="597.7" r="2.80" stroke-width="2.00"/>
<circle cx="541.5" cy="594.3" r="2.80" stroke-width="2.00"/>
<circle cx="545.7" cy="597.7" r="2.80" stroke-width="2.00"/>
<circle cx="549.9" cy="598.6" r="2.80" stroke-width="2.00"/>
<circle cx="554.2" cy="596.9" r="2.80" stroke-width="2.00"/>
<circle cx="558.4" cy="598.6" r="2.80" stroke-width="2.00"/>
<circle cx="562.6" cy="601.1" r="2.80" stroke-width="2.00"/>
<circle cx="566.8" cy="607.9" r="2.80" stroke-width="2.00"/>
<circle cx="569.3" cy="602.8" r="2.80" stroke-width="2.00"/>
<circle cx="574.4" cy="601.9" r="2.80" stroke-width="2.00"/>
<circle cx="577.8" cy="605.3" r="2.80" stroke-width="2.00"/>
<circle cx="582.0" cy="599.4" r="2.80" stroke-width="2.00"/>
<circle cx="585.4" cy="602.8" r="2.80" stroke-width="2.00"/>
<circle cx="588.8" cy="605.3" r="2.80" stroke-width="2.00"/>
<circle cx="592.2" cy="599.4" r="2.80" stroke-width="2.00"/>
<circle cx="596.4" cy="598.6" r="2.80" stroke-width="2.00"/>
<circle cx="599.8" cy="604.5" r="2.80" stroke-width="2.00"/>
<circle cx="609.9" cy="594.3" r="2.80" stroke-width="2.00"/>
<circle cx="613.3" cy="601.1" r="2.80" stroke-width="2.00"/>
<circle cx="617.5" cy="599.4" r="2.80" stroke-width="2.00"/>
<circle cx="620.9" cy="598.6" r="2.80" stroke-width="2.00"/>
<circle cx="624.3" cy="603.6" r="2.80" stroke-width="2.00"/>
<circle cx="626.9" cy="608.7" r="2.80" stroke-width="2.00"/>
<circle cx="630.2" cy="596.9" r="2.80" stroke-width="2.00"/>
<circle cx="634.5" cy="599.4" r="2.80" stroke-width="2.00"/>
<circle cx="636.2" cy="605.3" r="2.80" stroke-width="2.00"/>
<circle cx="639.6" cy="602.8" r="2.80" stroke-width="2.00"/>
<circle cx="642.9" cy="594.3" r="2.80" stroke-width="2.00"/>
<circle cx="650.6" cy="596.9" r="2.80" stroke-width="2.00"/>
<circle cx="656.5" cy="592.6" r="2.80" stroke-width="2.00"/>
<circle cx="654.8" cy="604.5" r="2.80" stroke-width="2.00"/>
<circle cx="660.7" cy="610.4" r="2.80" stroke-width="2.00"/>
<circle cx="670.0" cy="608.7" r="2.80" stroke-width="2.00"/>
<circle cx="673.1" cy="593.5" r="2.80" stroke-width="2.00"/>
<circle cx="372.1" cy="593.1" r="2.80" stroke-width="2.00"/>
<circle cx="407.0" cy="593.1" r="2.80" stroke-width="2.00"/>
<circle cx="412.0" cy="598.8" r="2.80" stroke-width="2.00"/>
<circle cx="417.1" cy="596.9" r="2.80" stroke-width="2.00"/>
<circle cx="420.9" cy="603.9" r="2.80" stroke-width="2.00"/>
<circle cx="443.8" cy="596.9" r="2.80" stroke-width="2.00"/>
<circle cx="448.9" cy="599.4" r="2.80" stroke-width="2.00"/>
<circle cx="377.8" cy="603.9" r="2.80" stroke-width="2.00"/>
</g>
<g fill="#0d0d0d" stroke="none">
<circle cx="300.9" cy="587.3" r="3.50"/>
<circle cx="303.5" cy="584.8" r="3.50"/>
<circle cx="362.5" cy="593.1" r="3.50"/>
<circle cx="398.1" cy="598.2" r="3.50"/>
<circle cx="401.9" cy="602.0" r="3.50"/>
<circle cx="404.4" cy="604.5" r="3.50"/>
</g>
<path d="M341.6 525.5 L251 548.4 M341.6 525.5 L328.9 551" stroke="#0d0d0d" stroke-width="1.5" fill="none"/><path d="M256.6 542 L251 548.4 L258.6 551.6 M328.2 541.2 L328.9 551 L337.6 544.6" stroke="#0d0d0d" stroke-width="1.9" fill="none" stroke-linejoin="miter"/>
<g transform="translate(308.00,34.80) scale(1.0200,1.0000)"><text font-size="34.50">La<tspan dy="7.7" font-size="23">3</tspan><tspan dy="-7.7">Ni</tspan><tspan dy="7.7" font-size="23">2</tspan><tspan dy="-7.7">O</tspan><tspan dy="7.7" font-size="23">7−</tspan><tspan dx="8.2" font-size="23" font-style="italic">δ</tspan></text></g>
<g transform="translate(57.50,122.90) scale(0.9850,1.0350)"><text font-size="35.30">20</text></g>
<g transform="translate(57.50,387.00) scale(0.9850,1.0350)"><text font-size="35.30">10</text></g>
<g transform="translate(75.20,668.20) scale(1.0300,1.0350)"><text font-size="35.30">0</text></g>
<g transform="translate(265.50,667.90) scale(0.9500,1.0350)"><text font-size="35.30">100</text></g>
<g transform="translate(453.20,667.00) scale(0.9750,1.0350)"><text font-size="35.30">200</text></g>
<g transform="translate(647.00,667.00) scale(0.9700,1.0350)"><text font-size="35.30">300</text></g>
<g transform="translate(347.30,698.70) scale(1.0000,1.0000)"><text font-size="35.00">T</text></g>
<g transform="translate(389.00,699.50) scale(0.9600,1.0800)"><text font-size="34.00">[K]</text></g>
<g transform="translate(347.20,532.60) scale(0.9850,1.0000)"><text font-size="29.00">as prepared</text></g>
<g transform="translate(37.20,452.20) rotate(-89.50) scale(1.0000,1.0000)"><text font-size="34.70">R<tspan dy="7.3" font-size="25">H</tspan></text></g>
<g transform="translate(38.00,388.30) rotate(-89.50) scale(1.0430,1.0000)"><text font-size="34.70">[10<tspan dy="-17" font-size="23">−3</tspan><tspan dy="17">cm</tspan><tspan dy="-17" font-size="23">3</tspan><tspan dy="17">/C]</tspan></text></g>
<g transform="translate(347.20,348.90) scale(0.9850,1.0000)"><text font-size="29.20">annealed at 400</text></g>
<g transform="translate(503.80,461.10) scale(1.0100,1.0000)"><text font-size="28.80">300</text></g>
<g transform="translate(552.60,348.30) scale(1.0600,1.0000)"><text font-size="28.50" class="cj">℃</text></g>
<g transform="translate(552.60,460.30) scale(1.0600,1.0000)"><text font-size="28.50" class="cj">℃</text></g>
<circle cx="402.5" cy="77.5" r="0.7" fill="#888"/><circle cx="632.5" cy="141.5" r="0.7" fill="#888"/>
</svg></body></html>
